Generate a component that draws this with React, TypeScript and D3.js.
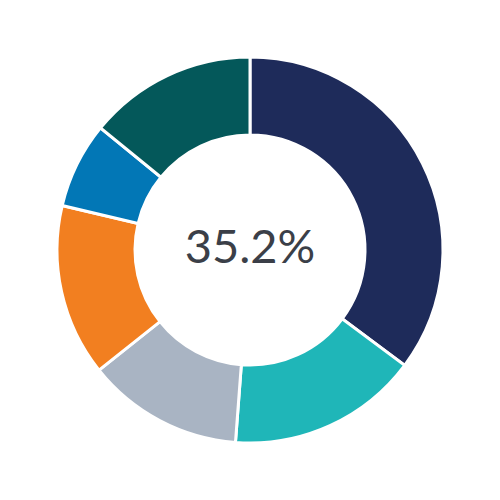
import React from "react";
import * as d3 from "d3";

const categories = ["Navy", "Teal", "Gray", "Orange", "Blue", "Green"];
const values = [35.2, 16.0, 13.1, 14.4, 7.2, 14.1];
const colors = ["#1e2b5a", "#1fb6b8", "#a9b4c3", "#f27f20", "#0277b6", "#04585a"];
const centerLabel = "35.2%";

export default function App() {
  const width = 500;
  const height = 500;
  const cx = 250;
  const cy = 250;
  const outerR = 193;
  const innerR = 115;

  const pie = d3
    .pie<number>()
    .sort(null)
    .value((d) => d);
  const arcs = pie(values);
  const arc = d3.arc<d3.PieArcDatum<number>>().innerRadius(innerR).outerRadius(outerR);

  return (
    <svg
      width={width}
      height={height}
      style={{ position: "absolute", left: 0, top: 0, background: "#ffffff" }}
    >
      <g transform={`translate(${cx},${cy})`}>
        {arcs.map((a, i) => (
          <path
            key={categories[i]}
            d={arc(a) || ""}
            fill={colors[i]}
            stroke="#ffffff"
            strokeWidth={3}
            strokeLinejoin="miter"
          />
        ))}
        <text
          x={0}
          y={-3}
          dy="0.35em"
          textAnchor="middle"
          fontFamily="Lato, sans-serif"
          fontSize={47}
          fill="#3b3f48"
        >
          {centerLabel}
        </text>
      </g>
    </svg>
  );
}
